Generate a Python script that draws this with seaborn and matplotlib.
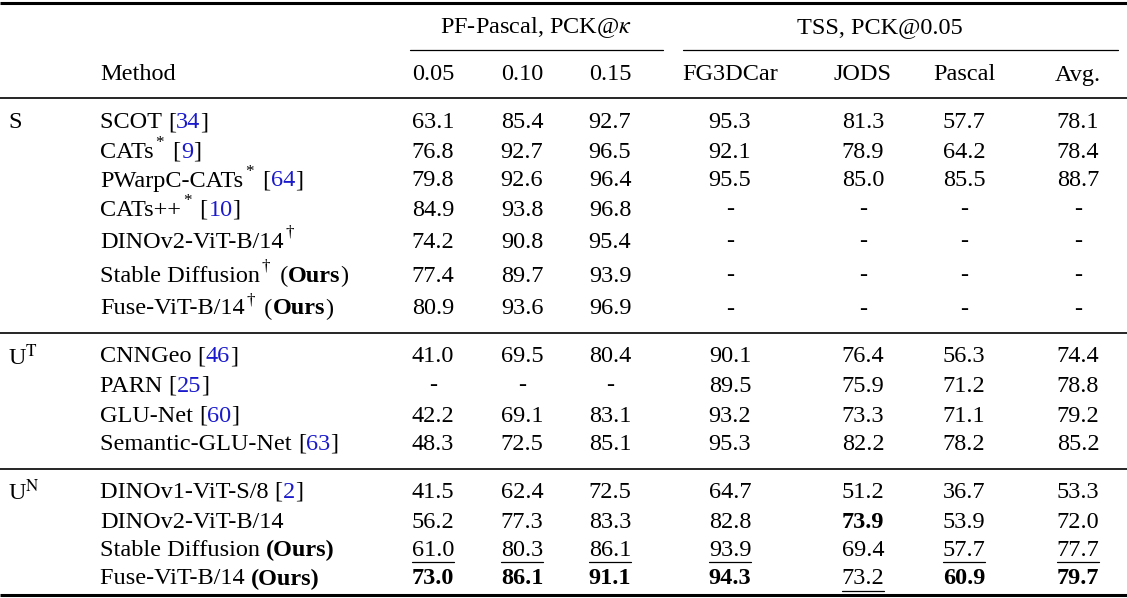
import matplotlib
matplotlib.use("Agg")
import matplotlib.pyplot as plt
import seaborn as sns

sns.set_theme(style="white")
plt.rcParams['font.family'] = ['Liberation Serif', 'DejaVu Serif']
plt.rcParams['mathtext.fontset'] = 'stix'
plt.rcParams['text.color'] = 'black'

groups = ["S", "U$^{\\mathrm{T}}$", "U$^{\\mathrm{N}}$"]
# method name pieces: (text, style) n=normal, b=bold, c=citation, s=superscript
methods = [
    [("SCOT ", "n"), ("[", "n"), ("34", "c"), ("]", "n")],
    [("CATs", "n"), ("*", "s"), (" [", "n"), ("9", "c"), ("]", "n")],
    [("PWarpC-CATs", "n"), ("*", "s"), (" [", "n"), ("64", "c"), ("]", "n")],
    [("CATs++", "n"), ("*", "s"), (" [", "n"), ("10", "c"), ("]", "n")],
    [("DINOv2-ViT-B/14", "n"), ("†", "s")],
    [("Stable Diffusion", "n"), ("†", "s"), (" (", "n"), ("Ours", "b"), (")", "n")],
    [("Fuse-ViT-B/14", "n"), ("†", "s"), (" (", "n"), ("Ours", "b"), (")", "n")],
    [("CNNGeo ", "n"), ("[", "n"), ("46", "c"), ("]", "n")],
    [("PARN ", "n"), ("[", "n"), ("25", "c"), ("]", "n")],
    [("GLU-Net ", "n"), ("[", "n"), ("60", "c"), ("]", "n")],
    [("Semantic-GLU-Net ", "n"), ("[", "n"), ("63", "c"), ("]", "n")],
    [("DINOv1-ViT-S/8 ", "n"), ("[", "n"), ("2", "c"), ("]", "n")],
    [("DINOv2-ViT-B/14", "n")],
    [("Stable Diffusion ", "n"), ("(Ours)", "b")],
    [("Fuse-ViT-B/14 ", "n"), ("(Ours)", "b")],
]
col_labels = ["0.05", "0.10", "0.15", "FG3DCar", "JODS", "Pascal", "Avg."]
values = [
    ["63.1", "85.4", "92.7", "95.3", "81.3", "57.7", "78.1"],
    ["76.8", "92.7", "96.5", "92.1", "78.9", "64.2", "78.4"],
    ["79.8", "92.6", "96.4", "95.5", "85.0", "85.5", "88.7"],
    ["84.9", "93.8", "96.8", "-", "-", "-", "-"],
    ["74.2", "90.8", "95.4", "-", "-", "-", "-"],
    ["77.4", "89.7", "93.9", "-", "-", "-", "-"],
    ["80.9", "93.6", "96.9", "-", "-", "-", "-"],
    ["41.0", "69.5", "80.4", "90.1", "76.4", "56.3", "74.4"],
    ["-", "-", "-", "89.5", "75.9", "71.2", "78.8"],
    ["42.2", "69.1", "83.1", "93.2", "73.3", "71.1", "79.2"],
    ["48.3", "72.5", "85.1", "95.3", "82.2", "78.2", "85.2"],
    ["41.5", "62.4", "72.5", "64.7", "51.2", "36.7", "53.3"],
    ["56.2", "77.3", "83.3", "82.8", "73.9", "53.9", "72.0"],
    ["61.0", "80.3", "86.1", "93.9", "69.4", "57.7", "77.7"],
    ["73.0", "86.1", "91.1", "94.3", "73.2", "60.9", "79.7"],
]
bold_cells = [(12, 4), (14, 0), (14, 1), (14, 2), (14, 3), (14, 5), (14, 6)]
under_cells = [(13, 0), (13, 1), (13, 2), (13, 3), (13, 5), (13, 6), (14, 4)]

W, H = 1127, 598
fig = plt.figure(figsize=(W / 100, H / 100), dpi=100)
ax = fig.add_axes([0, 0, 1, 1])
ax.set_xlim(0, W)
ax.set_ylim(H, 0)
ax.axis("off")

FS = 17.5
col_x = [433, 522, 610, 730, 863, 964, 1078]
row_y = [123, 152, 181, 210, 242, 276, 309, 357, 386, 416, 444, 492, 522, 550, 579]
group_y = [123, 357, 492]
rules = [(3, 2.2), (98, 1.2), (333, 1.2), (469, 1.2), (595, 2.2)]
for y, lw in rules:
    ax.plot([0, W], [y, y], color="black", lw=lw, solid_capstyle="butt")
ax.plot([410, 663], [50, 50], color="black", lw=0.9)
ax.plot([683, 1118], [50, 50], color="black", lw=0.9)
ax.text(536, 28, "PF-Pascal, PCK@$\\kappa$", fontsize=FS, ha="center", va="center")
ax.text(880, 28, "TSS, PCK@0.05", fontsize=FS, ha="center", va="center")
ax.text(100, 75, "Method", fontsize=FS, ha="left", va="center")
for x, lab in zip(col_x, col_labels):
    ax.text(x, 75, lab, fontsize=FS, ha="center", va="center")
for g, y in zip(groups, group_y):
    ax.text(8, y, g, fontsize=FS, ha="left", va="center")

fig.canvas.draw()
r = fig.canvas.get_renderer()
inv = ax.transData.inverted()

for i, pieces in enumerate(methods):
    x = 100
    y = row_y[i]
    for txt, st in pieces:
        kw = dict(fontsize=FS, ha="left", va="center", color="black")
        yy = y
        if st == "b":
            kw["fontweight"] = "bold"
        elif st == "c":
            kw["color"] = "#1a1acc"
        elif st == "s":
            kw["fontsize"] = FS * 0.7
            yy = y - 9
        t = ax.text(x + (2 if st == "s" else 0), yy, txt, **kw)
        bb = t.get_window_extent(r)
        x = inv.transform((bb.x1, bb.y0))[0] + (3 if st == "s" else 0)

for i, row in enumerate(values):
    for j, v in enumerate(row):
        kw = dict(fontsize=FS, ha="center", va="center", color="black")
        if (i, j) in bold_cells:
            kw["fontweight"] = "bold"
        t = ax.text(col_x[j], row_y[i], v, **kw)
        if (i, j) in under_cells:
            bb = t.get_window_extent(r)
            x0 = inv.transform((bb.x0, bb.y0))[0]
            x1 = inv.transform((bb.x1, bb.y0))[0]
            ax.plot([x0, x1], [row_y[i] + 12, row_y[i] + 12], color="black", lw=0.9)

fig.savefig("out.png", dpi=100)
